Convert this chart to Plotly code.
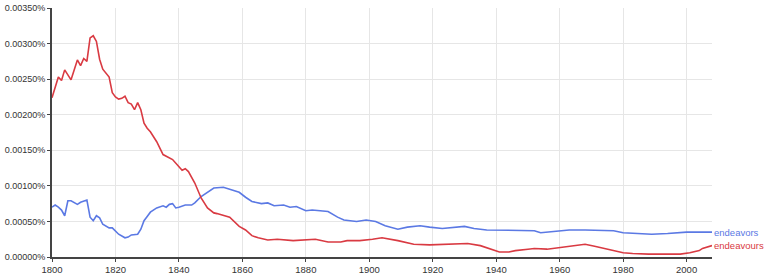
import plotly.graph_objects as go

# endeavours (red)
red_years = [1800, 1802, 1803, 1804, 1806, 1808, 1809, 1810, 1811, 1812, 1813, 1814, 1815, 1816, 1818,
             1819, 1820, 1821, 1822, 1823, 1824, 1825, 1826, 1827, 1828, 1829, 1830, 1831, 1833, 1835,
             1838, 1840, 1841, 1842, 1843, 1845, 1846, 1847, 1849, 1851, 1852, 1854, 1856, 1859, 1861,
             1863, 1865, 1868, 1871, 1876, 1881, 1883, 1887, 1891, 1893, 1897, 1901, 1904, 1909, 1911,
             1914, 1919, 1923, 1928, 1931, 1935, 1938, 1941, 1944, 1946, 1950, 1952, 1956, 1960, 1963,
             1966, 1968, 1971, 1974, 1977, 1980, 1983, 1988, 1994, 1998, 2001, 2004, 2005, 2008]
red_vals = [0.00224, 0.00253, 0.00248, 0.00263, 0.00249, 0.00277, 0.00269, 0.00279, 0.00275, 0.00308,
            0.00311, 0.00303, 0.00278, 0.00264, 0.00253, 0.00231, 0.00225, 0.00222, 0.00223, 0.00226,
            0.00217, 0.00215, 0.00207, 0.00217, 0.00207, 0.00188, 0.00181, 0.00176, 0.00162, 0.00144,
            0.00137, 0.00128, 0.00122, 0.00124, 0.00120, 0.00104, 0.00094, 0.00083, 0.00069, 0.00062,
            0.00061, 0.00058, 0.00056, 0.00043, 0.00038, 0.00030, 0.00027, 0.00024, 0.00025, 0.00023,
            0.00025, 0.00025, 0.00021, 0.00021, 0.00023, 0.00023, 0.00025, 0.00027, 0.00023, 0.00021,
            0.00018, 0.00017, 0.00018, 0.00019, 0.00019, 0.00016, 0.00012, 0.00007, 0.00007, 0.00009,
            0.00011, 0.00012, 0.00011, 0.00013, 0.00015, 0.00017, 0.00018, 0.00015, 0.00012, 0.00009,
            0.00006, 0.00005, 0.00004, 0.00004, 0.00004, 0.00006, 0.00009, 0.00012, 0.00016]

# endeavors (blue)
blue_years = [1800, 1801, 1802, 1803, 1804, 1805, 1806, 1808, 1809, 1810, 1811, 1812, 1813, 1814, 1815,
              1816, 1818, 1819, 1821, 1823, 1824, 1825, 1827, 1828, 1829, 1830, 1831, 1833, 1834, 1835,
              1836, 1837, 1838, 1839, 1840, 1842, 1844, 1845, 1847, 1849, 1851, 1854, 1857, 1859, 1861,
              1863, 1866, 1868, 1870, 1873, 1875, 1877, 1880, 1882, 1887, 1890, 1892, 1896, 1899, 1902,
              1905, 1909, 1912, 1916, 1919, 1923, 1930, 1933, 1937, 1941, 1945, 1946, 1952, 1954, 1957,
              1960, 1963, 1968, 1973, 1977, 1980, 1983, 1989, 1994, 2000, 2008]
blue_vals = [0.00070, 0.00073, 0.00070, 0.00066, 0.00058, 0.00079, 0.00079, 0.00074, 0.00077, 0.00079,
             0.00080, 0.00056, 0.00051, 0.00058, 0.00055, 0.00046, 0.00041, 0.00041, 0.00032, 0.00027,
             0.00028, 0.00031, 0.00032, 0.00039, 0.00051, 0.00057, 0.00063, 0.00069, 0.00070, 0.00072,
             0.00070, 0.00074, 0.00075, 0.00069, 0.00070, 0.00073, 0.00073, 0.00076, 0.00085, 0.00091,
             0.00097, 0.00098, 0.00094, 0.00091, 0.00084, 0.00078, 0.00075, 0.00076, 0.00072, 0.00073,
             0.00070, 0.00071, 0.00065, 0.00066, 0.00064, 0.00056, 0.00052, 0.00050, 0.00052, 0.00050,
             0.00044, 0.00039, 0.00042, 0.00044, 0.00042, 0.00040, 0.00043, 0.00040, 0.00038, 0.00038,
             0.00037, 0.00038, 0.00037, 0.00034, 0.00035, 0.00036, 0.00038, 0.00038, 0.00038, 0.00037,
             0.00034, 0.00033, 0.00032, 0.00033, 0.00035, 0.00035]

x_ticks = [1800, 1820, 1840, 1860, 1880, 1900, 1920, 1940, 1960, 1980, 2000]
y_ticks = [0.0, 0.0005, 0.001, 0.0015, 0.002, 0.0025, 0.003, 0.0035]
y_tick_text = ["%.5f%%" % v for v in y_ticks]

BLUE = "#5b79e4"
RED = "#d93a42"
FONT = "Liberation Sans, Arial, sans-serif"

fig = go.Figure()
fig.add_trace(go.Scatter(x=blue_years, y=blue_vals, mode="lines", name="endeavors",
                         line=dict(color=BLUE, width=1.6)))
fig.add_trace(go.Scatter(x=red_years, y=red_vals, mode="lines", name="endeavours",
                         line=dict(color=RED, width=1.6)))

fig.add_annotation(x=2008, y=blue_vals[-1], xref="x", yref="y", text="endeavors",
                   showarrow=False, xanchor="left", yanchor="middle", xshift=0,
                   font=dict(color=BLUE, size=9.5, family=FONT))
fig.add_annotation(x=2008, y=red_vals[-1], xref="x", yref="y", text="endeavours",
                   showarrow=False, xanchor="left", yanchor="middle", xshift=0,
                   font=dict(color=RED, size=9.5, family=FONT))

fig.update_layout(
    width=768, height=278,
    margin=dict(l=52, r=56, t=8, b=21, autoexpand=False),
    paper_bgcolor="white", plot_bgcolor="white",
    showlegend=False,
    font=dict(family=FONT, size=9.5, color="#333333"),
)
fig.update_xaxes(range=[1800, 2008], tickvals=x_ticks, showgrid=True, gridcolor="#e6e6e6",
                 gridwidth=1, showline=True, linecolor="#444444", linewidth=2,
                 ticks="outside", ticklen=3, tickcolor="#444444", zeroline=False,
                 automargin=False, tickfont=dict(size=9.5, color="#333333"))
fig.update_yaxes(range=[0, 0.0035], tickvals=y_ticks, ticktext=y_tick_text, showgrid=True,
                 gridcolor="#e6e6e6", gridwidth=1, showline=True, linecolor="#444444",
                 linewidth=2, ticks="outside", ticklen=3, tickcolor="#444444", zeroline=False,
                 automargin=False, tickfont=dict(size=9, color="#333333"))

fig.write_html("out.html")
